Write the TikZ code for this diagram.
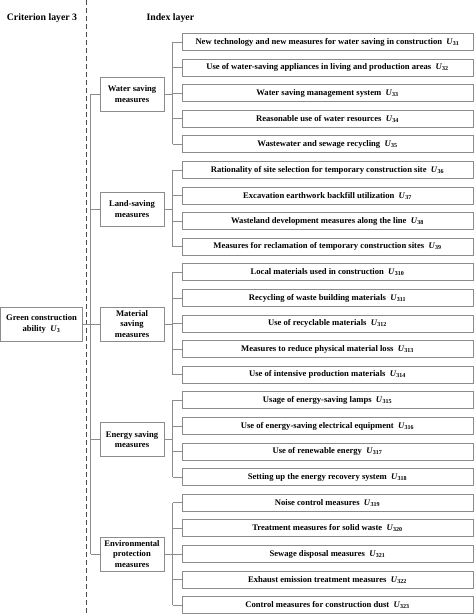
\documentclass[tikz,border=0pt]{standalone}
\usepackage{fontspec}
\setmainfont{Liberation Serif}
\usetikzlibrary{positioning,calc}
\definecolor{TreeGray}{HTML}{8C8C8C}
\definecolor{DashGray}{HTML}{4A4A4A}

\begin{document}
\begin{tikzpicture}[x=1pt, y=-1pt, every node/.style={font=\bfseries\fontsize{8.6}{10.2}\selectfont}, leaf/.style={draw=TreeGray, line width=0.9pt, minimum width=291pt, minimum height=17pt, inner sep=0pt}, group/.style={draw=TreeGray, line width=0.9pt, minimum width=64pt, minimum height=34pt, align=center, inner sep=1pt}, header/.style={font=\bfseries\fontsize{9.8}{12}\selectfont}, link/.style={draw=TreeGray, line width=0.9pt}]
\useasboundingbox (0,0) rectangle (474,615);
% headers and layer divider
\node[header] (crit) at (42,18) {Criterion layer 3};
\node[header, anchor=west] (idxhead) at (143,18) {Index layer};
\draw[DashGray, line width=0.9pt, dash pattern=on 5pt off 3pt] (86,0) -- (86,615);
% index layer
\foreach \txt [count=\i] in {New technology and new measures for water saving in construction, Use of water-saving appliances in living and production areas, Water saving management system, Reasonable use of water resources, Wastewater and sewage recycling, Rationality of site selection for temporary construction site, Excavation earthwork backfill utilization, Wasteland development measures along the line, Measures for reclamation of temporary construction sites, Local materials used in construction, Recycling of waste building materials, Use of recyclable materials, Measures to reduce physical material loss, Use of intensive production materials, Usage of energy-saving lamps, Use of energy-saving electrical equipment, Use of renewable energy, Setting up the energy recovery system, Noise control measures, Treatment measures for solid waste, Sewage disposal measures, Exhaust emission treatment measures, Control measures for construction dust}
  \node[leaf] (idx\i) at (327.5, 42+25.6*\i-25.6) {\txt\ \ \textit{U}\textsubscript{3\i}};
% criterion layer
\node[group] (water) at (132,94) {Water saving\\measures};
\node[group] (land) at (132,209) {Land-saving\\measures};
\node[group] (material) at (132,324) {Material\\saving\\measures};
\node[group] (energy) at (132,439.5) {Energy saving\\measures};
\node[group] (env) at (132,554) {Environmental\\protection\\measures};
\node[group, minimum width=82pt] (root) at (41.5,324) {Green construction\\ability \ \textit{U}\textsubscript{3}};
% connectors
\coordinate (trunk) at ([xshift=-9pt]water.west);
\coordinate (branch) at ([xshift=-9pt]idx1.west);
\draw[link] (root.east) -- (root.east -| trunk);
\draw[link] (water.west -| trunk) -- (env.west -| trunk);
\foreach \g in {water, land, material, energy, env}
  \draw[link] (trunk |- \g.west) -- (\g.west) (\g.east) -- (branch |- \g.east);
\foreach \g/\a/\b in {water/1/5, land/6/9, material/10/14, energy/15/18, env/19/23}
  \draw[link] (branch |- idx\a.west) -- (branch |- idx\b.west);
\foreach \i in {1,...,23}
  \draw[link] (branch |- idx\i.west) -- (idx\i.west);
\end{tikzpicture}
\end{document}
